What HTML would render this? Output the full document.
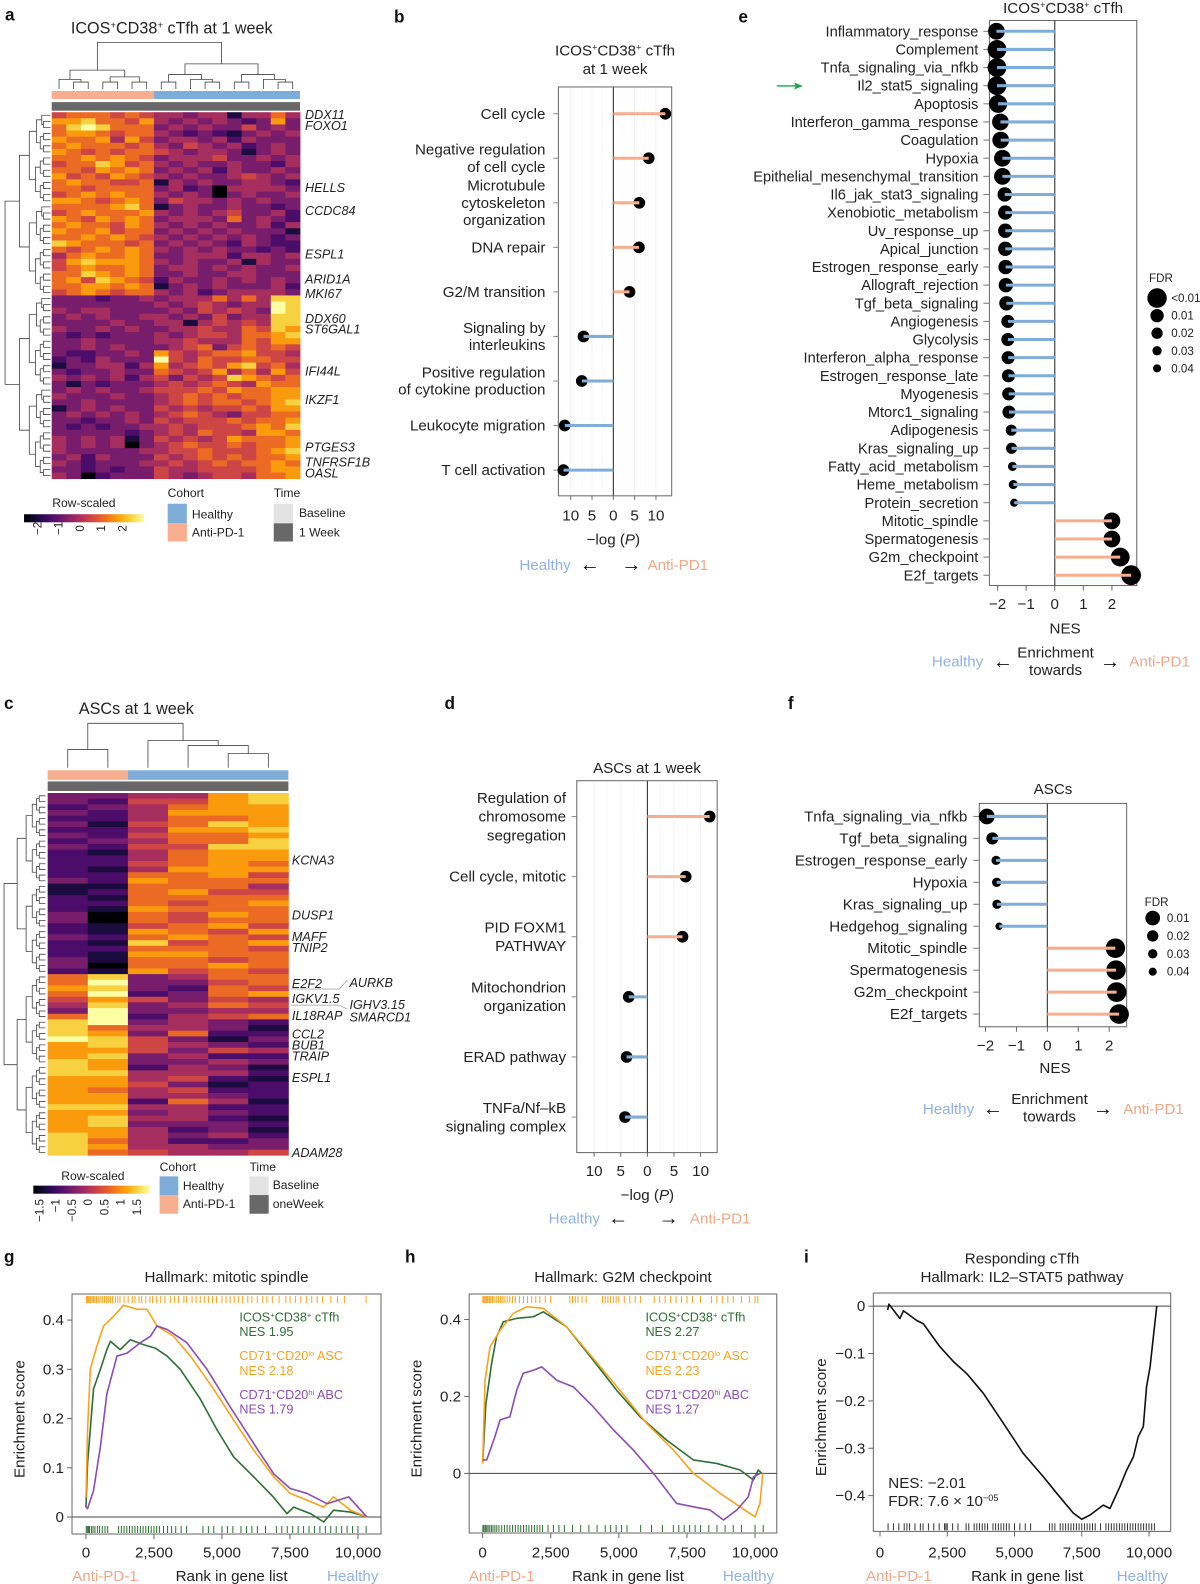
<!DOCTYPE html>
<html><head><meta charset="utf-8"><title>Figure</title>
<style>
html,body{margin:0;padding:0;background:#fff;}
svg{display:block;font-family:"Liberation Sans",Arial,sans-serif;}
</style></head>
<body>
<svg id="fig" width="1200" height="1584" viewBox="0 0 1188 1568" xmlns="http://www.w3.org/2000/svg"></svg>
<script>
// ---------- DATA ----------
const aRows = [
"5666565|4434414464","7786657|4343432373","6898666|3434335343","6776566|4323213434","7667475|3443424333",
"6766656|4354342343","7656566|5434431343","6676765|3444533434","5668756|4343343324","6657676|3434243343",
"7565765|4343345434","6766556|1434334432","6656666|3423044443","5676766|4343034334","7765676|3544343433",
"6666786|1343343323","5676667|4343453342","7657676|3444363432","6766576|4343433424","7667566|3434343331",
"6676765|4343434323","8766656|3434324322","6567676|4343433232","4676676|3344424434","5787776|4343341433",
"5676676|3443434334","6687676|3343344333","6758765|2433434343","6677676|1343433342","5676566|4342344443",
"3332334|3444646488","3333333|4345434498","4344333|3435454398","3434334|4343534488","3333433|4414545488",
"4334343|3445446587","3232333|4345546678","3343333|4454446577","3343433|3456356565","3223343|7545667554",
"2324333|9546556655","1334424|7456578564","3233433|6545746475","4343424|5354587656","3132333|4545654766",
"3434334|5556576677","4333433|4565656677","3343333|4565665678","1343433|5454556577","3434343|4565435566",
"3323343|5455565667","3232334|4545556768","3333323|4546554776","4343413|5454576667","4343403|4565565667",
"4333334|4556555678","3424333|5456565667","4323334|4545656676","3323233|5445555677","4302333|5434554667"];
const aGenes = ["DDX11","FOXO1","HELLS","CCDC84","ESPL1","ARID1A","MKI67","DDX60","ST6GAL1","IFI44L","IKZF1","PTGES3","TNFRSF1B","OASL"];
const aGeneY = [113.8,124.5,186,208.6,251.7,276.5,291,315.8,326,367.7,396,443,458,468.5];
const cRows = [
"33|4478","32|5578","23|4677","32|4777","22|4667","31|5687","22|4778","32|5667","23|4668","32|5588",
"21|4677","22|4677","22|5676","21|4777","22|6675","32|7666","11|6664","12|6755","21|6666","22|6567",
"21|7666","30|6576","30|6566","21|5675","21|7657","32|6765","21|8567","22|6665","21|7766","31|6656",
"30|6676","21|7565","68|3466","69|3356","78|3265","69|2367","57|5354","48|3465","39|3344","69|2456",
"89|3432","86|4431","87|3622","98|5313","78|5432","77|5354","78|3422","87|3343","87|2431","88|4442",
"77|4521","77|5312","76|4522","77|4432","77|2641","88|4422","77|3432","78|4421","78|3332","77|4231",
"87|4342","86|4223","87|4433","86|5445"];
const cGenes = ["KCNA3","DUSP1","MAFF","TNIP2","E2F2","IGKV1.5","IL18RAP","CCL2","BUB1","TRAIP","ESPL1","ADAM28"];
const cGeneY = [851.6,906,927.3,938.2,974,988.8,1005.6,1023.8,1034.8,1045.7,1067.2,1141.2];
const bCats = ["Cell cycle","Negative regulation|of cell cycle","Microtubule|cytoskeleton|organization","DNA repair","G2/M transition","Signaling by|interleukins","Positive regulation|of cytokine production","Leukocyte migration","T cell activation"];
const bVals = [12.2,8.3,6.1,6.0,3.8,-7.0,-7.4,-11.4,-11.7];
const bTicks = [-10,-5,0,5,10];
const dCats = ["Regulation of|chromosome|segregation","Cell cycle, mitotic","PID FOXM1|PATHWAY","Mitochondrion|organization","ERAD pathway","TNFa/Nf\u2013kB|signaling complex"];
const dVals = [11.7,7.2,6.6,-3.5,-3.9,-4.2];
const dTicks = [-10,-5,0,5,10];
const eCats = ["Inflammatory_response","Complement","Tnfa_signaling_via_nfkb","Il2_stat5_signaling","Apoptosis","Interferon_gamma_response","Coagulation","Hypoxia","Epithelial_mesenchymal_transition","Il6_jak_stat3_signaling","Xenobiotic_metabolism","Uv_response_up","Apical_junction","Estrogen_response_early","Allograft_rejection","Tgf_beta_signaling","Angiogenesis","Glycolysis","Interferon_alpha_response","Estrogen_response_late","Myogenesis","Mtorc1_signaling","Adipogenesis","Kras_signaling_up","Fatty_acid_metabolism","Heme_metabolism","Protein_secretion","Mitotic_spindle","Spermatogenesis","G2m_checkpoint","E2f_targets"];
const eNES = [-2.04,-2.02,-2.02,-2.02,-1.98,-1.9,-1.89,-1.83,-1.83,-1.75,-1.73,-1.73,-1.73,-1.72,-1.71,-1.69,-1.64,-1.64,-1.63,-1.62,-1.61,-1.6,-1.52,-1.51,-1.48,-1.45,-1.42,2.0,2.0,2.29,2.67];
const eFDR = [0.005,0.002,0.002,0.002,0.003,0.005,0.005,0.005,0.005,0.0085,0.0085,0.0085,0.0085,0.0085,0.0085,0.0085,0.011,0.011,0.011,0.011,0.011,0.011,0.021,0.021,0.032,0.032,0.04,0.005,0.005,0.002,0.0005];
const eTicks = [-2,-1,0,1,2];
const eLegend = ["<0.01","0.01","0.02","0.03","0.04"];
const eLegendF = [0.001,0.01,0.02,0.03,0.04];
const fCats = ["Tnfa_signaling_via_nfkb","Tgf_beta_signaling","Estrogen_response_early","Hypoxia","Kras_signaling_up","Hedgehog_signaling","Mitotic_spindle","Spermatogenesis","G2m_checkpoint","E2f_targets"];
const fNES = [-1.96,-1.78,-1.66,-1.64,-1.63,-1.56,2.2,2.22,2.24,2.32];
const fFDR = [0.0065,0.016,0.03,0.03,0.03,0.045,0.001,0.001,0.0008,0.0008];
const fLegend = ["0.01","0.02","0.03","0.04"];
const fLegendF = [0.008,0.02,0.03,0.04];
const gGreenR = [0,60,280,530,770,900,1260,1630,2120,2550,2980,3470,4200,4820,5430,6160,6900,7390,7630,8250,8740,9100,9720,10330];
const gGreenE = [0.02,0.11,0.26,0.30,0.34,0.357,0.34,0.36,0.35,0.343,0.327,0.30,0.24,0.177,0.122,0.082,0.04,0.007,0.02,0.007,-0.01,0.014,0.01,0.001];
const gOrangeR = [0,60,160,400,650,1020,1380,1880,2240,2610,3220,3840,4690,5430,6160,6900,7510,8130,8740,9100,9720,10330];
const gOrangeE = [0.04,0.177,0.30,0.347,0.388,0.408,0.43,0.422,0.422,0.388,0.367,0.327,0.26,0.197,0.136,0.082,0.048,0.034,0.02,0.041,0.014,0.0];
const gPurpleR = [0,60,280,530,770,1140,1510,2000,2370,2610,2980,3710,4450,5300,6160,6900,7510,8130,8860,9660,10330];
const gPurpleE = [0.02,0.017,0.054,0.143,0.25,0.327,0.333,0.354,0.367,0.388,0.381,0.354,0.30,0.224,0.15,0.088,0.058,0.048,0.027,0.041,0.0];
const gTopRug = [20,60,100,140,180,230,280,330,390,450,520,600,680,760,820,900,980,1080,1170,1250,1400,1550,1700,1800,1950,2050,2200,2350,2450,2600,2750,2900,3100,3250,3400,3600,3700,3900,4050,4200,4350,4500,4650,4800,5000,5150,5300,5450,5600,5750,5950,6100,6300,6500,6650,6850,7100,7350,7500,7700,7900,8100,8300,8500,8700,9000,9250,9500,10300];
const gBotRug = [10,50,90,130,200,260,330,420,500,600,700,800,1200,1300,1400,1500,1600,1700,1800,1900,2000,2100,2200,2300,2400,2500,2600,2700,2850,3000,3150,3300,3500,3700,4300,4500,4700,5000,5200,5400,5700,5900,6100,6300,6600,7000,7200,7400,7600,7800,8000,8200,8400,8600,8800,9000,9200,9400,9600,9800,10000,10300];
const hGreenR = [0,120,330,510,760,1250,1860,2230,3080,4060,4920,5780,6750,7740,8590,9450,9940,10120,10250];
const hGreenE = [0.026,0.18,0.286,0.355,0.394,0.403,0.407,0.42,0.381,0.294,0.216,0.147,0.087,0.035,0.026,0.009,-0.017,0.009,0.0];
const hOrangeR = [0,90,270,640,1130,1620,2230,3080,4060,5040,6020,7000,7740,8720,9450,10000,10180,10280];
const hOrangeE = [0.026,0.242,0.329,0.372,0.416,0.433,0.429,0.381,0.299,0.216,0.13,0.061,0.0,-0.052,-0.087,-0.113,-0.078,0.0];
const hPurpleR = [0,150,450,640,1000,1250,1490,1860,2170,2720,3330,4060,4800,5530,6270,7120,7740,8350,8840,9330,9750,9940,10180];
const hPurpleE = [0.035,0.035,0.095,0.139,0.147,0.216,0.26,0.268,0.277,0.242,0.225,0.173,0.113,0.061,0.0,-0.078,-0.087,-0.095,-0.121,-0.095,-0.061,-0.009,0.0];
const hTopRug = [10,40,80,120,160,200,250,300,360,420,500,580,660,740,820,900,1000,1100,1200,1350,1500,1650,1800,1950,2100,2300,2500,3200,3300,3400,3500,3650,3800,4400,4500,4600,4700,4800,4900,5000,5200,5400,5600,5800,6300,6500,6700,6900,7100,7300,7500,7700,8000,8400,8600,8800,9000,9200,9500,9800,10000,10100];
const hBotRug = [10,50,100,150,200,260,320,380,450,520,600,700,800,900,1000,1100,1200,1300,1400,1500,1600,1700,1800,1900,2000,2100,2200,2400,2600,2800,3000,3300,3600,3900,4200,4500,4700,4900,5100,5300,5800,6200,6600,7000,7200,7400,7600,7800,8000,8300,8600,8900,9200,9500,10000,10300];
const iR = [285,330,740,870,1050,1360,1610,2230,2730,3220,3840,4580,5330,6070,6570,7190,7500,7810,8300,8550,8920,9170,9420,9600,9790,9910,10040,10160,10290];
const iE = [-0.008,0.004,-0.026,-0.01,-0.017,-0.03,-0.037,-0.086,-0.117,-0.142,-0.184,-0.247,-0.311,-0.36,-0.395,-0.437,-0.45,-0.441,-0.42,-0.427,-0.381,-0.346,-0.318,-0.276,-0.254,-0.17,-0.128,-0.065,0.0];
const iRug = [300,500,700,900,1000,1100,1300,1500,1600,1800,2000,2200,2400,2450,2500,2700,2900,3200,3300,3500,3600,3700,3800,3900,4000,4200,4300,4400,4500,4600,4700,4800,5000,5200,5400,5600,6300,6400,6500,6700,6800,6900,7000,7100,7200,7300,7400,7500,7600,7700,7800,7900,8000,8200,8400,8500,8600,8700,8800,8900,9000,9100,9200,9300,9400,9500,9600,9700,9800,9900,10000,10100,10200];
const rankTicks = [0,2500,5000,7500,10000];

// ---------- HELPERS ----------
const NS='http://www.w3.org/2000/svg';
const svg=document.getElementById('fig');
function mk(tag, attrs, parent, text){const e=document.createElementNS(NS,tag);for(const k in attrs)e.setAttribute(k,attrs[k]);if(text!==undefined)e.textContent=text;(parent||svg).appendChild(e);return e;}
function grp(nm){const g=mk('g',{});


return g;}
function T(p,x,y,s,nm,o){o=o||{};const t=mk('text',{x:x,y:y,'font-size':o.fs||15,fill:o.fill||'#222','text-anchor':o.anchor||'start'},p,s);
if(o.italic)t.setAttribute('font-style','italic');if(o.bold)t.setAttribute('font-weight','bold');if(o.rot!==undefined)t.setAttribute('transform','rotate('+o.rot+' '+x+' '+y+')');


return t;}
function L(p,x1,y1,x2,y2,c,w,nm){const l=mk('line',{x1:x1,y1:y1,x2:x2,y2:y2,stroke:c,'stroke-width':w},p);


return l;}
const INF=[[0,0,4],[22,11,57],[66,10,104],[106,23,110],[147,38,103],[188,55,84],[221,81,58],[243,120,25],[252,165,10],[246,215,70],[252,255,164]];
function inferno(t){t=Math.max(0,Math.min(1,t))*10;const i=Math.min(9,Math.floor(t)),f=t-i;const a=INF[i],b=INF[i+1];return 'rgb('+a.map((v,k)=>Math.round(v+(b[k]-v)*f)).join(',')+')';}
const HB='#7fadd9', HO='#f6ae8e', TB='#8fb1e2', TO='#f1a784';
function supTitle(p,x,y,parts,nm,fs){const t=mk('text',{x:x,y:y,'font-size':fs||15,fill:'#222','text-anchor':'middle'},p);


parts.forEach(pt=>{const s=mk('tspan',{},t,pt[0]);if(pt[1]){s.setAttribute('baseline-shift','super');s.setAttribute('font-size',(fs||15)*0.6);}});return t;}
function dendroRows(p,x0,xr,y0,rh,a,b,maxn,nm){
 if(b-a===1)return [xr,y0+(a+0.5)*rh];
 const m=Math.floor((a+b)/2);const l=dendroRows(p,x0,xr,y0,rh,a,m,maxn,nm),r=dendroRows(p,x0,xr,y0,rh,m,b,maxn,nm);
 const x=xr-(xr-x0)*Math.pow((b-a)/maxn,0.55);
 const pa=mk('path',{d:'M'+l[0]+' '+l[1]+'H'+x+'V'+r[1]+'H'+r[0],fill:'none',stroke:'#444','stroke-width':0.8},p);
 
 
 return [x,(l[1]+r[1])/2];}
function heat(p,rows,x0,y0,w,h,nm){const rr=rows.map(s=>s.replace('|',''));const nc=rr[0].length,cw=w/nc,rh=h/rr.length;
 rr.forEach((row,r)=>{[...row].forEach((d,c)=>{const e=mk('rect',{x:(x0+c*cw).toFixed(2),y:(y0+r*rh).toFixed(2),width:(cw+0.4).toFixed(2),height:(rh+0.4).toFixed(2),fill:inferno(+d/9)},p);
 
 });});}
function gradBar(p,id,x,y,w,h){const d=mk('defs',{},p);const lg=mk('linearGradient',{id:id,x1:0,x2:1,y1:0,y2:0},d);for(let i=0;i<=10;i++)mk('stop',{offset:i/10,'stop-color':inferno(i/10)},lg);
 const r=mk('rect',{x:x,y:y,width:w,height:h,fill:'url(#'+id+')'},p);
 
 }
function box(p,x,y,w,h,fill,nm,stroke){const r=mk('rect',{x:x,y:y,width:w,height:h,fill:fill,stroke:stroke||'none','stroke-width':1},p);
 
 return r;}
function fdrR(f){const tb=[[0,10],[0.01,6.6],[0.02,5.6],[0.03,4.6],[0.04,4.0],[0.05,3.4]];for(let i=0;i<tb.length-1;i++){if(f<=tb[i+1][0]){const k=(f-tb[i][0])/(tb[i+1][0]-tb[i][0]);return tb[i][1]+(tb[i+1][1]-tb[i][1])*k;}}return 3.4;}
function dot(p,x,y,r,nm){const c=mk('circle',{cx:x,cy:y,r:r,fill:'#000'},p);
 
 }
function stem(p,x0,x1,y,c,nm){const l=L(p,x0,y,x1,y,c,3,nm);return l;}

// ---------- PANEL LETTERS ----------
const letters=grp('panel-letters');
[['a',5,20],['b',390,22],['e',731,22],['c',4,702],['d',440,702],['f',780,702],['g',4,1250],['h',401,1250],['i',796,1250]].forEach(l=>T(letters,l[1],l[2],l[0],'panel-letter-'+l[0],{fs:17,bold:true,fill:'#111'}));

// ---------- PANEL A ----------
(function(){const p=grp('panel-a-heatmap');
 supTitle(p,170,33,[['ICOS'],['+',1],['CD38'],['+',1],[' cTfh at 1 week']],'panel-a-title',16);
 const x0=51.2,x1=297,y0=111,y1=473.8,nc=17,cw=(x1-x0)/nc;
 box(p,x0,90,cw*7,8,HO,'cohort-bar-anti-pd1');box(p,x0+cw*7,90,cw*10,8,HB,'cohort-bar-healthy');box(p,x0,101,x1-x0,8.5,'#686868','time-bar-1-week');
 heat(p,aRows,x0,y0,x1-x0,y1-y0,'heatmap-a-cell');
 dendroRows(p,5,50,y0,(y1-y0)/aRows.length,0,aRows.length,aRows.length,'row-dendrogram-a');
 function colD(a,b,maxn){if(b-a===1)return [x0+(a+0.5)*cw,88];const m=Math.floor((a+b)/2);const l=colD(a,m,maxn),r=colD(m,b,maxn);const y=88-38*Math.pow((b-a)/maxn,0.8);
  const pa=mk('path',{d:'M'+l[0]+' '+l[1]+'V'+y+'H'+r[0]+'V'+r[1],fill:'none',stroke:'#444','stroke-width':0.8},p);
  
  return [(l[0]+r[0])/2,y];}
 const L1=colD(0,7,17),R1=colD(7,17,17);
 const top=mk('path',{d:'M'+L1[0]+' '+L1[1]+'V42H'+R1[0]+'V'+R1[1],fill:'none',stroke:'#444','stroke-width':0.8},p);
 
 
 aGenes.forEach((g,i)=>T(p,302,aGeneY[i]+4,g,'gene-label',{fs:12.5,italic:true}));
 T(p,83,502,'Row-scaled','legend-title-row-scaled',{fs:12,anchor:'middle'});
 gradBar(p,'gA',23.8,509,118.8,8);
 [-2,-1,0,1,2].forEach((v,i)=>T(p,41+i*21,523,(v<0?'\u2212':'')+Math.abs(v),'legend-tick',{fs:11.5,anchor:'middle',rot:-90}));
 T(p,166,492,'Cohort','legend-title-cohort',{fs:12});
 box(p,166,498.6,19,19.4,HB,'legend-swatch-healthy');box(p,166,518,19,18,HO,'legend-swatch-anti-pd1');
 T(p,190,513,'Healthy','legend-label-healthy',{fs:12});T(p,190,531,'Anti-PD-1','legend-label-anti-pd1',{fs:12});
 T(p,271,492,'Time','legend-title-time',{fs:12});
 box(p,271,498.6,19,19.4,'#e3e3e3','legend-swatch-baseline');box(p,271,518,19,18,'#686868','legend-swatch-1-week');
 T(p,296,512,'Baseline','legend-label-baseline',{fs:12});T(p,296,531,'1 Week','legend-label-1-week',{fs:12});
})();

// ---------- PANEL C ----------
(function(){const p=grp('panel-c-heatmap');
 T(p,135,707,'ASCs at 1 week','panel-c-title',{fs:16,anchor:'middle'});
 const x0=47.2,x1=285.5,y0=785,y1=1143.6,nc=6,cw=(x1-x0)/nc;
 box(p,x0,762.5,cw*2,9.5,HO,'cohort-bar-anti-pd1');box(p,x0+cw*2,762.5,cw*4,9.5,HB,'cohort-bar-healthy');box(p,x0,773.5,x1-x0,9.5,'#686868','time-bar-one-week');
 heat(p,cRows,x0,y0,x1-x0,y1-y0,'heatmap-c-cell');
 dendroRows(p,4,45,y0,(y1-y0)/cRows.length,0,cRows.length,cRows.length,'row-dendrogram-c');
 const cx=i=>x0+(i+0.5)*cw;
 const d='M'+cx(0)+' 760V742H'+cx(1)+'V760 M'+cx(4)+' 760V746H'+cx(5)+'V760 M'+cx(3)+' 760V738H'+((cx(4)+cx(5))/2)+'V746 M'+cx(2)+' 760V733H'+((cx(3)+(cx(4)+cx(5))/2)/2)+'V738 M'+((cx(0)+cx(1))/2)+' 742V716H'+((cx(2)+(cx(3)+(cx(4)+cx(5))/2)/2)/2)+'V733';
 const pa=mk('path',{d:d,fill:'none',stroke:'#444','stroke-width':0.8},p);
 
 
 cGenes.forEach((g,i)=>T(p,289,cGeneY[i]+4,g,'gene-label',{fs:12.5,italic:true}));
 T(p,346,977,'AURKB','gene-label',{fs:12.5,italic:true});T(p,346,999,'IGHV3.15','gene-label',{fs:12.5,italic:true});T(p,346,1011,'SMARCD1','gene-label',{fs:12.5,italic:true});
 L(p,288,979,336,979,'#999',0.7,'label-connector');L(p,336,979,344,970,'#999',0.7,'label-connector');
 L(p,288,995,336,995,'#999',0.7,'label-connector');L(p,336,995,344,999,'#999',0.7,'label-connector');
 T(p,92,1168,'Row-scaled','legend-title-row-scaled',{fs:12,anchor:'middle'});
 gradBar(p,'gC',33,1173.7,115.5,8);
 ['\u22121.5','\u22121','\u22120.5','0','0.5','1','1.5'].forEach((v,i)=>T(p,43+i*16.1,1187,v,'legend-tick',{fs:11.5,anchor:'end',rot:-90}));
 T(p,158,1159,'Cohort','legend-title-cohort',{fs:12});
 box(p,158,1164.5,18.5,18.5,HB,'legend-swatch-healthy');box(p,158,1183,18.5,18.5,HO,'legend-swatch-anti-pd1');
 T(p,181,1178,'Healthy','legend-label-healthy',{fs:12});T(p,181,1196,'Anti-PD-1','legend-label-anti-pd1',{fs:12});
 T(p,247,1159,'Time','legend-title-time',{fs:12});
 box(p,247,1164.5,19,18.5,'#e3e3e3','legend-swatch-baseline');box(p,247,1183,19,18.5,'#686868','legend-swatch-one-week');
 T(p,270,1177,'Baseline','legend-label-baseline',{fs:12});T(p,270,1196,'oneWeek','legend-label-one-week',{fs:12});
})();

// ---------- LOLLIPOP (b,d) ----------
function pathwayPanel(nm,cats,vals,ticks,bx0,bx1,by0,by1,zero,ppu,ry0,rdy,labelX,titleLines,titleY,tickY,axY,hY,hPos,lineH){
 const p=grp(nm);const sx=v=>zero+v*ppu;
 titleLines.forEach((t,i)=>{if(Array.isArray(t))supTitle(p,(bx0+bx1)/2,titleY+i*18,t,nm+'-title',15);else T(p,(bx0+bx1)/2,titleY+i*18,t,nm+'-title',{anchor:'middle'});});
 ticks.forEach(t=>{if(t!==0)L(p,sx(t),by0,sx(t),by1,'#f0f0f0',1,'grid-line');});
 ticks.forEach(t=>{L(p,sx(t-2.5),by0,sx(t-2.5),by1,'#f7f7f7',0.8,'minor-grid-line');});
 L(p,zero,by0,zero,by1,'#222',1,'zero-line');
 box(p,bx0,by0,bx1-bx0,by1-by0,'none','plot-frame','#666');
 cats.forEach((c,i)=>{const y=ry0+i*rdy;const v=vals[i];
  L(p,bx0-5,y,bx0,y,'#888',1,'y-tick');
  dot(p,sx(v),y,5.8,'point-'+i);
  stem(p,zero,sx(v),y,v>0?HO:HB,'stem-'+i);
  const ls=c.split('|');ls.forEach((s,k)=>T(p,labelX,y+5+(k-(ls.length-1)/2)*lineH,s,'category-label',{anchor:'end'}));});
 ticks.forEach(t=>{L(p,sx(t),by1,sx(t),by1+4,'#666',1,'x-tick');T(p,sx(t),tickY,String(Math.abs(t)),'x-tick-label',{anchor:'middle'});});
 const ax=mk('text',{x:zero,y:axY,'font-size':15,fill:'#222','text-anchor':'middle'},p);
 
 
 mk('tspan',{},ax,'\u2212log (');mk('tspan',{'font-style':'italic'},ax,'P');mk('tspan',{},ax,')');
 T(p,hPos[0],hY,'Healthy','direction-healthy',{anchor:'end',fill:TB});T(p,hPos[1],hY+1,'\u2190','arrow-left',{anchor:'middle',fill:'#111',fs:20});
 T(p,hPos[2],hY+1,'\u2192','arrow-right',{anchor:'middle',fill:'#111',fs:20});T(p,hPos[3],hY,'Anti-PD1','direction-anti-pd1',{fill:TO});}
pathwayPanel('panel-b-pathways',bCats,bVals,bTicks,552.8,665,86,490.8,607.2,4.22,112.5,44.1,540,[[['ICOS'],['+',1],['CD38'],['+',1],[' cTfh']],'at 1 week'],55,515,539,564,[565,584,625,641],17);
pathwayPanel('panel-d-pathways',dCats,dVals,dTicks,571,710,772.8,1141,640.9,5.27,808.3,59.5,560.4,['ASCs at 1 week'],765,1164,1188,1211,[594,612,662,683],18.5);

// ---------- NES PANELS (e,f) ----------
function nesPanel(nm,cats,nes,fdr,bx0,bx1,by0,by1,zero,ppu,ry0,rdy,labelX,fs,title,titleY,tickY,nesY,dir,leg,legF,legX,legY0,legDy,legTitleY){
 const p=grp(nm);const sx=v=>zero+v*ppu;
 if(Array.isArray(title))supTitle(p,(bx0+bx1)/2,titleY,title,nm+'-title',15);else T(p,(bx0+bx1)/2,titleY,title,nm+'-title',{anchor:'middle'});
 box(p,bx0,by0,bx1-bx0,by1-by0,'none','plot-frame','#666');
 L(p,zero,by0,zero,by1,'#444',1.2,'zero-line');
 cats.forEach((c,i)=>{const y=ry0+i*rdy;const v=nes[i];
  L(p,bx0-6,y,bx0,y,'#777',1,'y-tick');
  dot(p,sx(v),y,fdrR(fdr[i]),'point-'+c);
  stem(p,zero,sx(v),y,v>0?HO:HB,'stem-'+c);
  T(p,labelX,y+5,c,'category-label',{anchor:'end',fs:fs});});
 [-2,-1,0,1,2].forEach(t=>{L(p,sx(t),by1,sx(t),by1+5,'#666',1,'x-tick');T(p,sx(t),tickY,t<0?'\u2212'+(-t):String(t),'x-tick-label',{anchor:'middle'});});
 T(p,(bx0+bx1)/2+2,nesY,'NES','x-axis-title',{anchor:'middle'});
 T(p,dir[0],dir[5],'Healthy','direction-healthy',{anchor:'middle',fill:TB});T(p,dir[1],dir[5]+1,'\u2190','arrow-left',{anchor:'middle',fill:'#111',fs:20});
 T(p,dir[2],dir[6],'Enrichment','direction-caption',{anchor:'middle'});T(p,dir[2],dir[6]+17,'towards','direction-caption',{anchor:'middle'});
 T(p,dir[3],dir[5]+1,'\u2192','arrow-right',{anchor:'middle',fill:'#111',fs:20});T(p,dir[4],dir[5],'Anti-PD1','direction-anti-pd1',{anchor:'middle',fill:TO});
 const lg=grp(nm+'-fdr-legend');p.appendChild(lg);
 T(lg,legX-8,legTitleY,'FDR','legend-title-fdr',{fs:11.5});
 leg.forEach((s,i)=>{dot(lg,legX,legY0+i*legDy,fdrR(legF[i]),'legend-dot');T(lg,legX+14,legY0+i*legDy+4,s,'legend-label',{fs:11.5});});
 return p;}
const eP=nesPanel('panel-e-hallmark',eCats,eNES,eFDR,979.5,1125.4,20.2,579.6,1044.2,28.3,30.9,17.95,968.6,14.5,[['ICOS'],['+',1],['CD38'],['+',1],[' cTfh']],13,603,627,[948,993,1045,1099,1148,660,651],eLegend,eLegendF,1145.5,295,17.4,279);
const arr=mk('path',{d:'M769 85H789',stroke:'#1aa64a','stroke-width':1.4,fill:'none'},eP);


const ah=mk('path',{d:'M795 85L786 81.5L788 85L786 88.5Z',fill:'#1aa64a'},eP);


nesPanel('panel-f-hallmark',fCats,fNES,fFDR,969.5,1115.4,795.3,1016.4,1036.9,30.6,808.2,21.74,957.7,15,'ASCs',786,1040,1062,[939,983,1039,1092,1142,1103,1093],fLegend,fLegendF,1141.2,908.8,17.7,897);

// ---------- GSEA PANELS ----------
function gsea(nm,bx0,bx1,by0,by1,x0,x10k,y0,ppu,yTicks,yFmt,series,rugTop,rugBot,title,legend,texts){
 const p=grp(nm);const sx=r=>x0+(x10k-x0)*r/10000;const sy=v=>y0-v*ppu;
 title.forEach((t,i)=>T(p,(bx0+bx1)/2,1269-(title.length-1-i)*18,t,nm+'-title',{anchor:'middle'}));
 box(p,bx0,by0,bx1-bx0,by1-by0,'none','plot-frame','#666');
 L(p,bx0,y0,bx1,y0,'#444',1,'zero-line');
 if(rugTop)rugTop[1].forEach(r=>L(p,sx(r),by0+2,sx(r),by0+9,rugTop[0],1,'rug-top-tick'));
 rugBot[1].forEach(r=>L(p,sx(r),by1-8,sx(r),by1-1,rugBot[0],1,'rug-bottom-tick'));
 series.forEach(s=>{const pts=s.r.map((r,i)=>sx(r).toFixed(1)+','+sy(s.e[i]).toFixed(1)).join(' ');
  const pl=mk('polyline',{points:pts,fill:'none',stroke:s.c,'stroke-width':1.6,'stroke-linejoin':'round'},p);
  
  });
 yTicks.forEach((t,i)=>{L(p,bx0-5,sy(t),bx0,sy(t),'#666',1,'y-tick');T(p,bx0-8,sy(t)+5,yFmt[i],'y-tick-label',{anchor:'end',fs:15});});
 rankTicks.forEach(t=>{L(p,sx(t),by1,sx(t),by1+5,'#666',1,'x-tick');T(p,sx(t),1542,t===0?'0':t.toLocaleString('en-US'),'x-tick-label',{anchor:'middle'});});
 T(p,bx0-47,(by0+by1)/2+5,'Enrichment score','y-axis-title',{anchor:'middle',rot:-90});
 T(p,sx(700),1565,'Anti-PD-1','direction-anti-pd1',{anchor:'middle',fill:TO});
 T(p,(bx0+bx1)/2+5,1565,'Rank in gene list','x-axis-title',{anchor:'middle'});
 T(p,bx1-28,1565,'Healthy','direction-healthy',{anchor:'middle',fill:TB});
 if(legend)legend.forEach((lg,i)=>{const y=1308+i*38.5;supTitle(p,0,y,lg[0],'legend-label',12.5).setAttribute('text-anchor','start');
  p.lastChild.setAttribute('x',texts);T(p,texts,y+14.5,lg[1],'legend-nes',{fs:12.5,fill:lg[2]});p.lastChild.previousSibling.setAttribute('fill',lg[2]);});
 return p;}
const G='#2f6e35',O='#f7a41c',P='#8b4db3';
gsea('panel-g-mitotic-spindle',71.3,377.2,1281,1518.6,85.1,354.4,1501.8,487.5,[0,0.1,0.2,0.3,0.4],['0','0.1','0.2','0.3','0.4'],
 [{r:gGreenR,e:gGreenE,c:G,n:'curve-cTfh'},{r:gOrangeR,e:gOrangeE,c:O,n:'curve-asc'},{r:gPurpleR,e:gPurpleE,c:P,n:'curve-abc'}],
 [O,gTopRug],[G,gBotRug],['Hallmark: mitotic spindle'],
 [[[['ICOS'],['+',1],['CD38'],['+',1],[' cTfh']],'NES   1.95',G],[[['CD71'],['+',1],['CD20'],['lo',1],[' ASC']],'NES   2.18',O],[[['CD71'],['+',1],['CD20'],['hi',1],[' ABC']],'NES   1.79',P]],237);
gsea('panel-h-g2m-checkpoint',464.5,769,1281,1517.6,477.8,747.5,1458.6,381,[0,0.2,0.4],['0','0.2','0.4'],
 [{r:hGreenR,e:hGreenE,c:G,n:'curve-cTfh'},{r:hOrangeR,e:hOrangeE,c:O,n:'curve-asc'},{r:hPurpleR,e:hPurpleE,c:P,n:'curve-abc'}],
 [O,hTopRug],[G,hBotRug],['Hallmark: G2M checkpoint'],
 [[[['ICOS'],['+',1],['CD38'],['+',1],[' cTfh']],'NES   2.27',G],[[['CD71'],['+',1],['CD20'],['lo',1],[' ASC']],'NES   2.23',O],[[['CD71'],['+',1],['CD20'],['hi',1],[' ABC']],'NES   1.27',P]],639);
const iP=gsea('panel-i-il2-stat5',864.6,1159,1280,1516,871.2,1137.5,1293,469,[0,-0.1,-0.2,-0.3,-0.4],['0','\u22120.1','\u22120.2','\u22120.3','\u22120.4'],
 [{r:iR,e:iE,c:'#111',n:'curve-responding-cTfh'}],null,['#333',iRug],['Responding cTfh','Hallmark: IL2\u2013STAT5 pathway'],null,0);
T(iP,879.4,1473,'NES: \u22122.01','annotation-nes',{});
const fdrT=T(iP,879.4,1491,'FDR: 7.6 \u00d7 10','annotation-fdr',{});
mk('tspan',{'baseline-shift':'super','font-size':9},fdrT,'\u221205');
</script>
</body></html>
